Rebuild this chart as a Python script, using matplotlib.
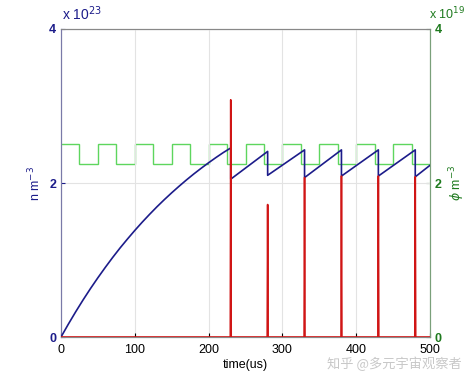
import matplotlib
matplotlib.use("Agg")
import matplotlib.pyplot as plt

plt.rcParams['font.family'] = ['Liberation Sans', 'DejaVu Sans']

# density n (x 1e23 m^-3)
n_t = [0, 10, 20, 30, 40, 50, 60, 70, 80, 90, 100, 110, 120, 130, 140, 150,
       160, 170, 180, 190, 200, 210, 220, 230,
       230, 280, 280, 330, 330, 380, 380, 430, 430, 480, 480, 500]
n_val = [0, 0.168, 0.329, 0.483, 0.630, 0.770, 0.904, 1.033, 1.156, 1.272,
         1.384, 1.491, 1.593, 1.691, 1.784, 1.873, 1.958, 2.040, 2.118, 2.192,
         2.263, 2.331, 2.396, 2.455,
         2.05, 2.41, 2.10, 2.43, 2.07, 2.43, 2.09, 2.43, 2.09, 2.43, 2.08, 2.23]

# flux phi (x 1e19 m^-3), square wave
phi_edges = [0, 25, 50, 75, 100, 125, 150, 175, 200, 225, 250,
             275, 300, 325, 350, 375, 400, 425, 450, 475, 500]
phi_val = [2.5, 2.25, 2.5, 2.25, 2.5, 2.25, 2.5, 2.25, 2.5, 2.25,
           2.5, 2.25, 2.5, 2.25, 2.5, 2.25, 2.5, 2.25, 2.5, 2.25]

# red pulses
pulse_t = [230, 280, 330, 380, 430, 480]
pulse_h = [3.08, 1.72, 2.07, 2.09, 2.09, 2.08]

blue = '#1c1c8a'
green_line = '#5ed65e'
green_txt = '#1e7a1e'
red = '#d01515'

fig = plt.figure(figsize=(4.74, 3.79), dpi=100)
ax = fig.add_axes([0.1287, 0.1108, 0.7785, 0.8127])
ax2 = ax.twinx()
ax.set_zorder(ax2.get_zorder() + 1)
ax.patch.set_visible(False)

ax2.stairs(phi_val, phi_edges, color=green_line, lw=1.0, baseline=None)
ax2.set_ylim(0, 4)
ax2.set_yticks([0, 2, 4])
ax2.tick_params(axis='y', colors=green_txt, direction='in', labelsize=9, length=3)
for lb in ax2.get_yticklabels():
    lb.set_fontweight('bold')
ax2.set_ylabel(r'$\phi$ m$^{-3}$', color=green_txt, fontsize=9, labelpad=4)

ax.plot(n_t, n_val, color=blue, lw=1.2, zorder=3)

rx = [0]
ry = [0]
for t, h in zip(pulse_t, pulse_h):
    rx += [t - 0.6, t, t + 0.6]
    ry += [0, h, 0]
rx.append(500)
ry.append(0)
ax.plot(rx, ry, color=red, lw=1.2, zorder=4)

ax.set_xlim(0, 500)
ax.set_ylim(0, 4)
ax.set_xticks([0, 100, 200, 300, 400, 500])
ax.set_yticks([0, 2, 4])
ax.grid(True, color='#e3e3e3', lw=0.8)
ax.tick_params(axis='x', direction='in', labelsize=9, length=3, pad=5)
ax.tick_params(axis='y', colors=blue, direction='in', labelsize=9, length=3)
for lb in ax.get_yticklabels():
    lb.set_fontweight('bold')
ax.set_xlabel('time(us)', fontsize=9, labelpad=2)
ax.set_ylabel('n m$^{-3}$', color=blue, fontsize=9, labelpad=4)

for a in (ax, ax2):
    a.spines['top'].set_color('#888888')
    a.spines['bottom'].set_color('#888888')
    a.spines['left'].set_color('#7a7aa8')
    a.spines['right'].set_color('#7aa07a')

fig.text(0.131, 0.938, r'x 10$^{23}$', color=blue, fontsize=10, ha='left', va='bottom')
fig.text(0.905, 0.942, r'x 10$^{19}$', color=green_txt, fontsize=9, ha='left', va='bottom')

fig.text(0.975, 0.04, '知乎 @多元宇宙观察者', color='#c8c8c8', fontsize=9.5,
         ha='right', va='center', family=['Noto Sans CJK SC', 'DejaVu Sans'])

fig.savefig('out.png', dpi=100)
